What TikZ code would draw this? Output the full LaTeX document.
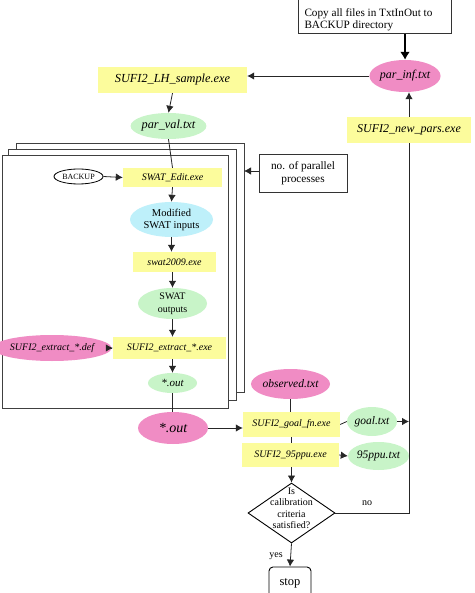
\documentclass[tikz,border=0pt]{standalone}
\usepackage{fontspec}
\setmainfont{Liberation Serif}
\usetikzlibrary{shapes.geometric,arrows.meta}
\definecolor{fileyellow}{HTML}{FCFC9C}
\definecolor{filegreen}{HTML}{C8F4C8}
\definecolor{filepink}{HTML}{F08CC4}
\definecolor{filecyan}{HTML}{BEF0FA}
\begin{document}
\begin{tikzpicture}[x=1pt,y=-1pt,
  exebox/.style={rectangle,fill=fileyellow,draw=none,inner sep=0pt,font=\fontsize{10}{12}\selectfont\itshape},
  greenell/.style={ellipse,fill=filegreen,draw=none,inner sep=0pt},
  pinkell/.style={ellipse,fill=filepink,draw=none,inner sep=0pt},
  cyanell/.style={ellipse,fill=filecyan,draw=none,inner sep=0pt},
  plainbox/.style={rectangle,draw=black!80,line width=0.9pt,inner sep=0pt},
  stackbox/.style={draw=black!75,line width=0.8pt,fill=white},
  conn/.style={line width=0.8pt,draw=black!85},
  arr/.style={conn,-{Latex[length=7pt,width=7.5pt]}},
  thickarr/.style={line width=2.6pt,-{Latex[length=8pt,width=10pt]}},
  lbl/.style={font=\fontsize{10}{12}\selectfont,inner sep=1pt}
]
\useasboundingbox (0,0) rectangle (474,593);

% stacked process boxes
\draw[stackbox] (16,143) rectangle (244,392);
\draw[stackbox] (8,149) rectangle (236,400);
\draw[stackbox] (2,155) rectangle (228,408);
\coordinate (backedge) at (244,171);

% top
\node[plainbox,minimum width=153pt,minimum height=35pt,align=left,
  font=\fontsize{11.2}{12}\selectfont] (copy) at (374.5,16)
  {\parbox{140pt}{\vspace{8pt}Copy all files in TxtInOut to\\BACKUP directory}};
\node[pinkell,minimum width=63pt,minimum height=32pt,font=\fontsize{12}{13}\selectfont\itshape] (parinf) at (405,76) {par\_inf.txt};
\node[exebox,minimum width=149pt,minimum height=26pt,font=\fontsize{12.3}{13}\selectfont\itshape] (lh) at (172.5,80) {SUFI2\_LH\_sample.exe};
\node[greenell,minimum width=71pt,minimum height=26pt,font=\fontsize{12.3}{14}\selectfont\itshape] (parval) at (168.5,126) {par\_val.txt};
\node[exebox,minimum width=124pt,minimum height=26pt,font=\fontsize{12}{13}\selectfont\itshape] (newpars) at (409,130) {SUFI2\_new\_pars.exe};
\node[plainbox,minimum width=88pt,minimum height=38pt,align=center,
  font=\fontsize{11.3}{13}\selectfont] (parallel) at (303,173) {no. of parallel\\processes};

% inside the process box
\node[exebox,minimum width=99pt,minimum height=19pt] (edit) at (172.5,177.5) {SWAT\_Edit.exe};
\node[ellipse,draw=black,line width=0.8pt,fill=white,inner sep=0pt,minimum width=49pt,minimum height=15pt,
  font=\fontsize{8}{9}\selectfont] (backup) at (78.5,176.5) {BACKUP};
\node[cyanell,minimum width=83pt,minimum height=35pt,align=center,
  font=\fontsize{10.5}{12}\selectfont] (modified) at (171.5,219.5) {Modified\\SWAT inputs};
\node[exebox,minimum width=83pt,minimum height=20pt] (swat) at (174.5,262) {swat2009.exe};
\node[greenell,minimum width=69pt,minimum height=31pt,align=center,
  font=\fontsize{10}{13}\selectfont] (swatout) at (172.5,303.5) {SWAT\\outputs};
\node[exebox,minimum width=113pt,minimum height=22pt] (extract) at (169.5,348) {SUFI2\_extract\_*.exe};
\node[pinkell,minimum width=104pt,minimum height=26pt,font=\fontsize{10}{12}\selectfont\itshape] (extdef) at (52,348) {SUFI2\_extract\_*.def};
\node[greenell,minimum width=49pt,minimum height=20pt,font=\fontsize{11}{13}\selectfont\itshape] (outsmall) at (172.5,383) {*.out};

% lower part
\node[pinkell,minimum width=70pt,minimum height=32pt,font=\fontsize{14}{16}\selectfont\itshape] (outbig) at (173,428) {*.out};
\node[pinkell,minimum width=71pt,minimum height=30pt,font=\fontsize{11.5}{13}\selectfont\itshape] (observed) at (290.5,384) {observed.txt};
\node[exebox,minimum width=97pt,minimum height=25pt] (goalfn) at (291.5,424.5) {SUFI2\_goal\_fn.exe};
\node[greenell,minimum width=50pt,minimum height=29pt,font=\fontsize{11.5}{13}\selectfont\itshape] (goaltxt) at (372,421.5) {goal.txt};
\node[exebox,minimum width=97pt,minimum height=24pt] (ppuexe) at (290.5,455) {SUFI2\_95ppu.exe};
\node[greenell,minimum width=59pt,minimum height=28pt,font=\fontsize{11.5}{13}\selectfont\itshape] (pputxt) at (378.5,456) {95ppu.txt};
\node[diamond,draw=black,line width=0.9pt,fill=white,inner sep=0pt,minimum width=87pt,minimum height=60pt] (dia) at (291.5,513) {};
\node[align=center,font=\fontsize{10}{11.5}\selectfont,inner sep=0pt] (diatext) at (291.5,508.5) {Is\\calibration\\criteria\\satisfied?};
\node[rectangle,rounded corners=4pt,draw=black,line width=0.9pt,minimum width=42pt,minimum height=32pt,
  font=\fontsize{12.5}{14}\selectfont] (stop) at (290,583) {stop};

% connectors
\draw[thickarr] (parinf.north |- copy.south) -- (parinf.north);
\draw[arr] (parinf.west) -- (parinf.west -| lh.east);
\draw[arr] (lh.south) -- (parval.north);
\draw[arr] (newpars.north) -- (newpars.north |- parinf.south);
\draw[conn] (dia.east) -- (dia.east -| newpars.south) -- (newpars.south);
\node[lbl] (nolbl) at (367,503) {no};
\draw[conn] (parval.south) -- (edit.north);
\draw[arr] (parallel.west |- backedge) -- (backedge);
\draw[arr] (backup.east) -- (edit.west);
\draw[arr] (edit.south) -- (modified.north);
\draw[arr] (modified.south) -- (modified.south |- swat.north);
\draw[arr] (swat.south -| swatout.north) -- (swatout.north);
\draw[arr] (swatout.south) -- (swatout.south |- extract.north);
\draw[arr] (extdef.east) -- (extract.west);
\draw[arr] (outsmall.north |- extract.south) -- (outsmall.north);
\draw[conn] (outsmall.south) -- (outbig.north -| outsmall.south);
\draw[arr] (outbig.east) -- (outbig.east -| goalfn.west);
\draw[conn] (observed.south) -- (observed.south |- goalfn.north);
\draw[conn] (goalfn.east) -- (goaltxt.west);
\draw[arr] (goaltxt.east) -- (goaltxt.east -| newpars.south);
\draw[conn] (goalfn.south) -- (goalfn.south |- ppuexe.north);
\draw[arr] (ppuexe.east) -- (pputxt.west);
\draw[arr] (ppuexe.south -| dia.north) -- (dia.north);
\draw[arr] (dia.south) -- (stop.north);
\node[lbl] (yeslbl) at (276,556) {yes};
\end{tikzpicture}
\end{document}
